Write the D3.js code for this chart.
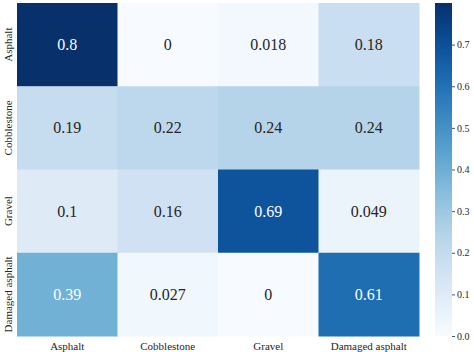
<!DOCTYPE html>
<html>
<head>
<meta charset="utf-8">
<script src="https://cdn.jsdelivr.net/npm/d3@7"></script>
<style>
  body { margin: 0; background: #fff; }
  text { font-family: "Liberation Serif", "DejaVu Serif", serif; }
</style>
</head>
<body>
<div id="chart"></div>
<script>
// Confusion matrix values (rows = true, cols = predicted)
const categories = ["Asphalt", "Cobblestone", "Gravel", "Damaged asphalt"];
const values = [
    [0.8, 0, 0.018, 0.18],
    [0.19, 0.22, 0.24, 0.24],
    [0.1, 0.16, 0.69, 0.049],
    [0.39, 0.027, 0, 0.61]
];
const labels = [
    ["0.8", "0", "0.018", "0.18"],
    ["0.19", "0.22", "0.24", "0.24"],
    ["0.1", "0.16", "0.69", "0.049"],
    ["0.39", "0.027", "0", "0.61"]
];
const cbarTicks = [0.0, 0.1, 0.2, 0.3, 0.4, 0.5, 0.6, 0.7];

const width = 474, height = 352;
const plot = {left: 17, top: 3, right: 419, bottom: 336};
const cbar = {left: 435, right: 452};
const serif = "'Liberation Serif', 'DejaVu Serif', serif";

const svg = d3.select("#chart")
    .append("svg")
    .attr("width", width)
    .attr("height", height);

const x = d3.scaleBand().domain(categories).range([plot.left, plot.right]);
const y = d3.scaleBand().domain(categories).range([plot.top, plot.bottom]);
const color = d3.scaleSequential(d3.interpolateBlues).domain([0, 0.8]);

function luminance(c) {
    const rgb = d3.rgb(c);
    const f = v => {
        v = v / 255;
        return v <= 0.03928 ? v / 12.92 : Math.pow((v + 0.055) / 1.055, 2.4);
    };
    return 0.2126 * f(rgb.r) + 0.7152 * f(rgb.g) + 0.0722 * f(rgb.b);
}

const cells = [];
values.forEach((row, i) => row.forEach((v, j) => {
    cells.push({row: categories[i], col: categories[j], v: v, label: labels[i][j]});
}));

// Cells
svg.selectAll("rect.cell")
    .data(cells)
    .enter()
    .append("rect")
    .attr("class", "cell")
    .attr("x", d => x(d.col))
    .attr("y", d => y(d.row))
    .attr("width", x.bandwidth() + 0.5)
    .attr("height", y.bandwidth() + 0.5)
    .attr("fill", d => color(d.v));

// Annotations
svg.selectAll("text.annot")
    .data(cells)
    .enter()
    .append("text")
    .attr("class", "annot")
    .attr("x", d => x(d.col) + x.bandwidth() / 2)
    .attr("y", d => y(d.row) + y.bandwidth() / 2)
    .attr("dy", "0.35em")
    .attr("text-anchor", "middle")
    .attr("font-size", 16)
    .style("font-family", serif)
    .attr("fill", d => luminance(color(d.v)) > 0.408 ? "#262626" : "#ffffff")
    .text(d => d.label);

// X axis labels
svg.append("g")
    .attr("transform", `translate(0,${plot.bottom})`)
    .call(d3.axisBottom(x).tickSize(0).tickPadding(6))
    .call(g => g.select(".domain").remove())
    .selectAll("text")
    .attr("font-size", 11)
    .attr("fill", "#262626")
    .style("font-family", serif);

// Y axis labels (rotated)
const yAxis = svg.append("g")
    .attr("transform", `translate(${plot.left},0)`)
    .call(d3.axisLeft(y).tickSize(0).tickPadding(0))
    .call(g => g.select(".domain").remove());
yAxis.selectAll("text")
    .attr("font-size", 11)
    .attr("fill", "#262626")
    .attr("text-anchor", "middle")
    .attr("x", 0)
    .attr("dy", 0)
    .attr("transform", "translate(-5,0) rotate(-90)")
    .style("font-family", serif);

// Colorbar
const cy = d3.scaleLinear().domain([0, 0.8]).range([plot.bottom, plot.top]);
const defs = svg.append("defs");
const grad = defs.append("linearGradient")
    .attr("id", "cbar-grad")
    .attr("x1", 0).attr("y1", 1).attr("x2", 0).attr("y2", 0);
d3.range(0, 1.0001, 0.05).forEach(t => {
    grad.append("stop")
        .attr("offset", t)
        .attr("stop-color", color(t * 0.8));
});
svg.append("rect")
    .attr("x", cbar.left)
    .attr("y", cy(0.8))
    .attr("width", cbar.right - cbar.left)
    .attr("height", cy(0) - cy(0.8))
    .attr("fill", "url(#cbar-grad)");

svg.append("g")
    .attr("transform", `translate(${cbar.right},0)`)
    .call(d3.axisRight(cy).tickValues(cbarTicks).tickFormat(d3.format(".1f")).tickSize(3).tickPadding(2))
    .call(g => g.select(".domain").remove())
    .call(g => g.selectAll("line").attr("stroke", "#262626").attr("stroke-width", 0.8))
    .selectAll("text")
    .attr("font-size", 10)
    .attr("fill", "#262626")
    .style("font-family", serif);
</script>
</body>
</html>
